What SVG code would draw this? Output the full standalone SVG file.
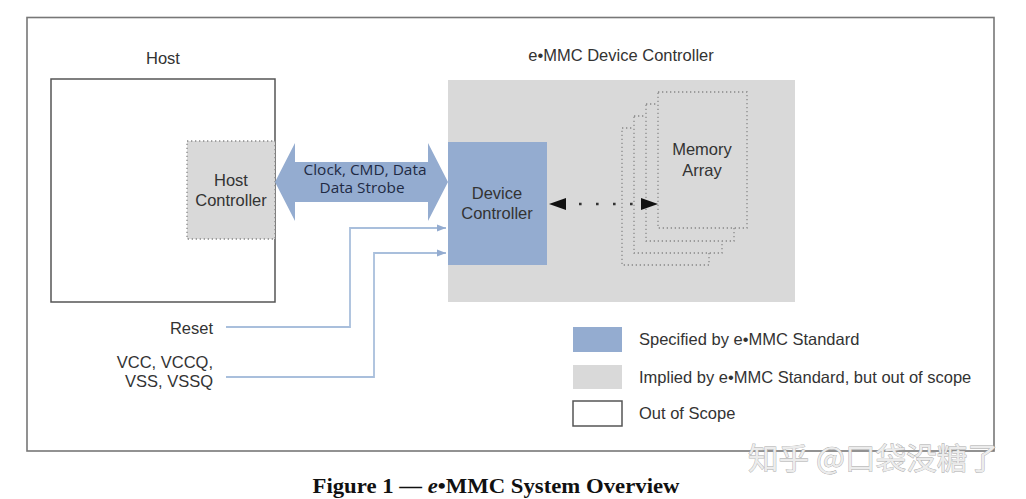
<svg xmlns="http://www.w3.org/2000/svg" width="1026" height="499" viewBox="0 0 1026 499">
<style>
.t{font-family:"Liberation Sans",Arial,sans-serif;font-size:16.5px;fill:#333}
.c{text-anchor:middle}
.r{text-anchor:end}
.bus{font-family:"Open Sans","Noto Sans",sans-serif;font-size:14.5px;fill:#1f2a44;text-anchor:middle}
.dot{fill:#d9d9d9;stroke:#888;stroke-width:1.3;stroke-dasharray:1.3 2.7}
.sig{fill:none;stroke:#a9bfdc;stroke-width:1.8}
</style>
<defs>
<marker id="ah" viewBox="0 0 10 10" refX="10" refY="5" markerWidth="5" markerHeight="5" orient="auto" markerUnits="strokeWidth">
<path d="M0,1 L10,5 L0,9 z" fill="#94acd0"/>
</marker>
</defs>
<rect width="1026" height="499" fill="#fff"/>
<rect id="frame" x="27" y="17.5" width="967" height="433.5" fill="none" stroke="#777" stroke-width="1.6"/>

<g id="host">
<rect x="51" y="79" width="224" height="223" fill="#fff" stroke="#555" stroke-width="1.5"/>
<text class="t c" x="163" y="64">Host</text>
</g>

<g id="device-area">
<rect x="448" y="80" width="347" height="222" fill="#d9d9d9"/>
<text class="t c" x="621" y="61">e•MMC Device Controller</text>
</g>

<g id="host-controller">
<rect class="dot" x="187" y="141" width="88" height="98"/>
<text class="t c" x="231" y="186">Host</text>
<text class="t c" x="231" y="206">Controller</text>
</g>

<g id="device-controller">
<rect x="448" y="142" width="99" height="123" fill="#94acd0"/>
<text class="t c" x="497" y="199">Device</text>
<text class="t c" x="497" y="219">Controller</text>
</g>

<g id="memory-array">
<rect class="dot" x="622" y="128" width="87" height="137"/>
<rect class="dot" x="634" y="116" width="88" height="137"/>
<rect class="dot" x="646" y="104" width="88" height="137"/>
<rect class="dot" x="658" y="92" width="89" height="136"/>
<text class="t c" x="702" y="155">Memory</text>
<text class="t c" x="702" y="176">Array</text>
</g>

<g id="connectors">
<path id="bus" d="M275,182 L295,143 L295,162 L428,162 L428,143 L448,182 L428,221 L428,202 L295,202 L295,221 Z" fill="#94acd0"/>
<text class="bus" x="365" y="175" textLength="123" lengthAdjust="spacingAndGlyphs">Clock, CMD, Data</text>
<text class="bus" x="362" y="193" textLength="85" lengthAdjust="spacingAndGlyphs">Data Strobe</text>
<path d="M549,204 L566,198 L566,210 Z" fill="#111"/>
<path d="M658,204 L641,198 L641,210 Z" fill="#111"/>
<line x1="579" y1="204" x2="638" y2="204" stroke="#333" stroke-width="2.6" stroke-dasharray="2.6 14.4" stroke-linecap="butt"/>
<path class="sig" d="M226,327 L350,327 L350,228 L446,228" marker-end="url(#ah)"/>
<path class="sig" d="M226,377 L374,377 L374,253 L446,253" marker-end="url(#ah)"/>
</g>

<g id="signal-labels">
<text class="t r" x="213" y="334">Reset</text>
<text class="t r" x="213" y="368">VCC, VCCQ,</text>
<text class="t r" x="213" y="387">VSS, VSSQ</text>
</g>

<g id="legend">
<rect x="573" y="327" width="49" height="25" fill="#94acd0"/>
<rect x="573" y="365" width="49" height="24" fill="#d9d9d9"/>
<rect x="573" y="401" width="49" height="25" fill="#fff" stroke="#555" stroke-width="1.5"/>
<text class="t" x="639" y="345">Specified by e•MMC Standard</text>
<text class="t" x="639" y="383">Implied by e•MMC Standard, but out of scope</text>
<text class="t" x="639" y="419">Out of Scope</text>
</g>

<text x="496" y="493" text-anchor="middle" font-family="Liberation Serif,'Times New Roman',serif" font-weight="bold" font-size="21.5" fill="#111" textLength="367" lengthAdjust="spacingAndGlyphs">Figure 1 — <tspan font-style="italic">e</tspan>•MMC System Overview</text>

<text x="748" y="469" font-family="'Noto Sans CJK SC','Noto Sans',sans-serif" font-size="30" fill="#ececec" stroke="#a8a8a8" stroke-width="0.8" paint-order="stroke" textLength="250" lengthAdjust="spacingAndGlyphs">知乎 @口袋没糖了</text>
</svg>
